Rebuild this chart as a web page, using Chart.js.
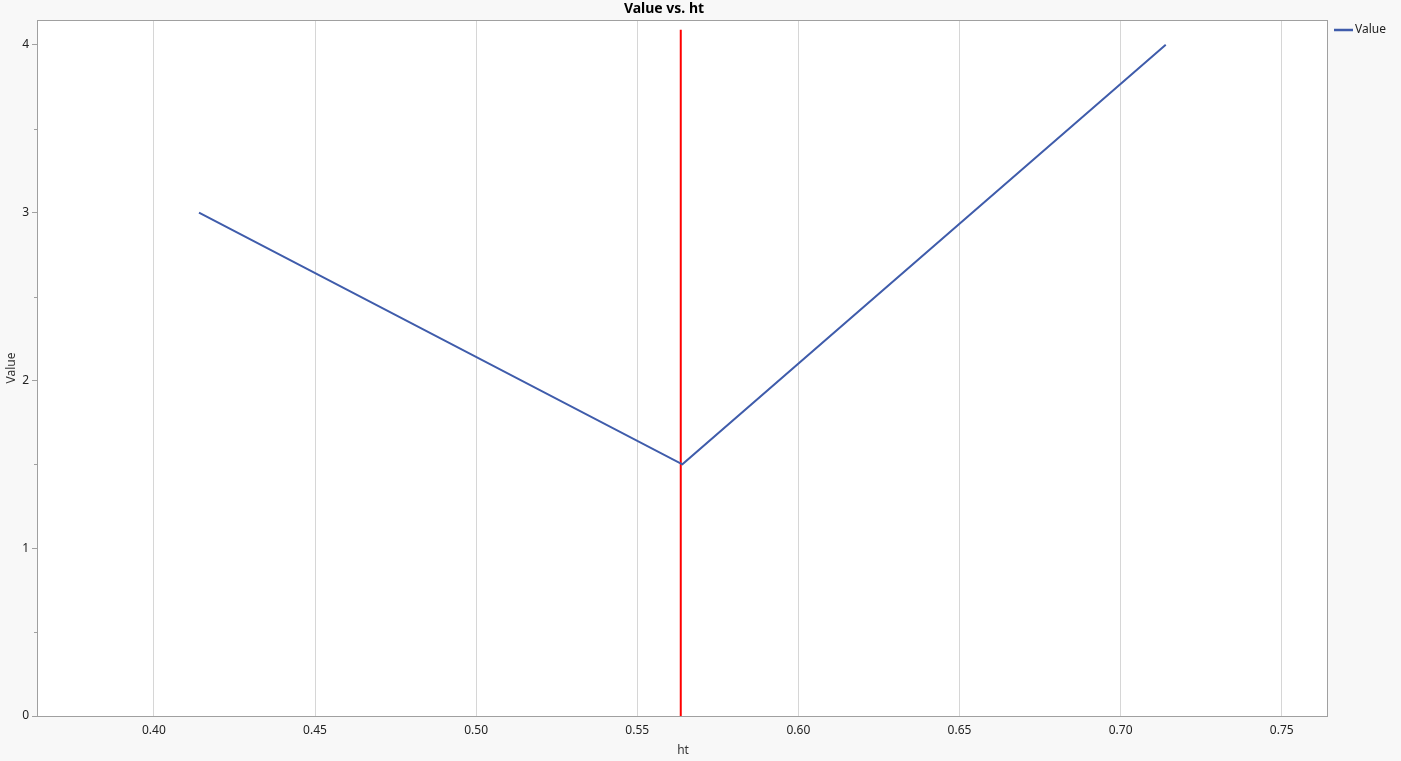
<!DOCTYPE html>
<html>
<head>
<meta charset="utf-8">
<script src="https://cdn.jsdelivr.net/npm/chart.js@4/dist/chart.umd.min.js"></script>
<style>
  html, body { margin: 0; padding: 0; background: #f8f8f8; }
  #wrap { width: 1401px; height: 761px; position: relative; }
</style>
</head>
<body>
<div id="wrap"><canvas id="c"></canvas></div>
<script>
// ---- data ----
const chartTitle = "Value vs. ht";
const seriesName = "Value";
const htValues = [0.414, 0.564, 0.714];
const valueValues = [3, 1.5, 4];
const cutX = [0.5635, 0.5635];
const cutY = [0, 4.09];
const xTickValues = [0.40, 0.45, 0.50, 0.55, 0.60, 0.65, 0.70, 0.75];
const yTickValues = [0, 1, 2, 3, 4];
const yMinorTickValues = [0.5, 1.5, 2.5, 3.5];
const xRange = [0.36404, 0.76435];
const yRange = [0, 4.148];

const FONT = "'Noto Sans', 'DejaVu Sans', sans-serif";
const BLUE = "#3f5cab";

const decorPlugin = {
  id: 'decor',
  beforeDraw(chart) {
    const { ctx, chartArea: a } = chart;
    ctx.save();
    ctx.fillStyle = '#f8f8f8';
    ctx.fillRect(0, 0, chart.width, chart.height);
    ctx.fillStyle = '#ffffff';
    ctx.fillRect(a.left, a.top, a.right - a.left, a.bottom - a.top);
    ctx.restore();
  },
  beforeDatasetsDraw(chart) {
    const { ctx, chartArea: a } = chart;
    ctx.save();
    ctx.strokeStyle = '#a0a0a0';
    ctx.lineWidth = 1;
    ctx.strokeRect(Math.round(a.left) - 0.5, Math.round(a.top) + 0.5,
                   Math.round(a.right - a.left), Math.round(a.bottom - a.top));
    // minor y ticks
    const ys = chart.scales.y;
    ctx.beginPath();
    yMinorTickValues.forEach(v => {
      const py = Math.round(ys.getPixelForValue(v)) + 0.5;
      ctx.moveTo(a.left - 4, py);
      ctx.lineTo(a.left, py);
    });
    ctx.stroke();
    ctx.restore();
  },
  afterDraw(chart) {
    const { ctx, chartArea: a } = chart;
    ctx.save();
    // title
    ctx.fillStyle = '#000';
    ctx.font = "bold 14px " + FONT;
    ctx.textAlign = 'center';
    ctx.textBaseline = 'middle';
    ctx.fillText(chartTitle, 664, 9);
    // legend
    ctx.strokeStyle = BLUE;
    ctx.lineWidth = 2.5;
    ctx.beginPath();
    ctx.moveTo(a.right + 6, 30);
    ctx.lineTo(a.right + 25, 30);
    ctx.stroke();
    ctx.fillStyle = '#222';
    ctx.font = "12px " + FONT;
    ctx.textAlign = 'left';
    ctx.fillText(seriesName, a.right + 27, 30);
    ctx.restore();
  }
};

new Chart(document.getElementById('c'), {
  type: 'line',
  data: {
    datasets: [
      {
        label: seriesName,
        data: htValues.map((x, i) => ({ x: x, y: valueValues[i] })),
        borderColor: BLUE,
        borderWidth: 2,
        pointRadius: 0,
        tension: 0,
        fill: false
      },
      {
        label: 'cut',
        data: cutX.map((x, i) => ({ x: x, y: cutY[i] })),
        borderColor: '#ff0000',
        borderWidth: 2,
        pointRadius: 0,
        fill: false
      }
    ]
  },
  options: {
    responsive: true,
    maintainAspectRatio: false,
    animation: false,
    layout: { padding: { top: 20, right: 73, left: 0, bottom: 0 } },
    plugins: {
      legend: { display: false },
      title: { display: false },
      tooltip: { enabled: false }
    },
    scales: {
      x: {
        type: 'linear',
        min: xRange[0],
        max: xRange[1],
        afterBuildTicks: s => { s.ticks = xTickValues.map(v => ({ value: v })); },
        afterFit: s => { s.height = 45; },
        border: { display: false },
        grid: { color: '#d6d6d6', drawTicks: false, lineWidth: 1 },
        ticks: {
          padding: 7,
          color: '#222',
          font: { family: FONT, size: 12 },
          maxRotation: 0,
          callback: v => Number(v).toFixed(2)
        },
        title: {
          display: true, text: 'ht', color: '#333',
          font: { family: FONT, size: 12 },
          padding: { top: 2, bottom: 3 }
        }
      },
      y: {
        type: 'linear',
        min: yRange[0],
        max: yRange[1],
        afterBuildTicks: s => { s.ticks = yTickValues.map(v => ({ value: v })); },
        afterFit: s => { s.width = 38; },
        border: { display: false },
        grid: { drawOnChartArea: false, drawTicks: true, tickLength: 6, tickColor: '#a0a0a0' },
        ticks: {
          padding: 3,
          color: '#222',
          font: { family: FONT, size: 12 },
          callback: v => String(v)
        },
        title: {
          display: true, text: 'Value', color: '#333',
          font: { family: FONT, size: 12 },
          padding: { top: 4, bottom: 2 }
        }
      }
    }
  },
  plugins: [decorPlugin]
});
</script>
</body>
</html>
